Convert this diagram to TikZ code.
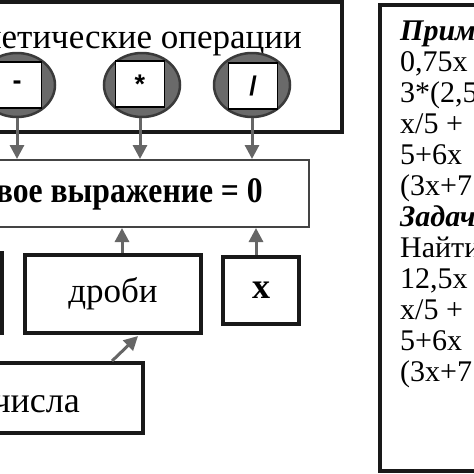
\documentclass[tikz,border=0pt]{standalone}
\usepackage{graphicx}
\usepackage{fontspec}
\setmainfont{Liberation Serif}
\newfontfamily\opsfont{Liberation Sans}
\usetikzlibrary{arrows.meta,shapes.geometric}
\definecolor{arrgray}{HTML}{666666}
\definecolor{ellfill}{HTML}{6A6A6A}
\definecolor{elldraw}{HTML}{3A3A3A}
\definecolor{midgray}{HTML}{444444}
\tikzset{
  thickbox/.style={draw=black!90, line width=4pt, fill=white, inner sep=0pt},
  thinbox/.style={draw=midgray, line width=2pt, fill=white, inner sep=0pt},
  opell/.style={ellipse, draw=elldraw, line width=2.5pt, fill=ellfill, minimum width=76pt, minimum height=64pt, inner sep=0pt},
  opsq/.style={draw=black, line width=1.2pt, fill=white, minimum width=49pt, minimum height=46pt, inner sep=0pt, font=\opsfont\bfseries\fontsize{27}{27}\selectfont},
  arr/.style={draw=arrgray, line width=3pt, -{Triangle[width=14pt,length=14pt]}},
  bigtxt/.style={font=\fontsize{35}{40}\selectfont, inner sep=0pt},
  sidetxt/.style={font=\fontsize{30}{32}\selectfont, inner sep=0pt, anchor=base west},
  sidehead/.style={sidetxt, font=\bfseries\itshape\fontsize{30}{32}\selectfont}
}
\begin{document}
\begin{tikzpicture}[x=1pt,y=-1pt]
\useasboundingbox (0,0) rectangle (474,474);
\clip (0,0) rectangle (474,474);
% top box
\node[thickbox, minimum width=492pt, minimum height=130.5pt] (top) at (96,66.75) {};
\node[bigtxt, anchor=base east] (title) at (302,48) {Арифметические операции};
% ellipses
\node[opell] (e1) at (17,85) {};
\node[opell] (e2) at (142,85) {};
\node[opell] (e3) at (252,85) {};
\node[opsq] (s1) at (17,85) {-};
\node[opsq] (s2) at (140,84) {*};
\node[opsq] (s3) at (253,86) {/};
% middle box
\node[thinbox, minimum width=459pt, minimum height=67pt] (mid) at (79.5,193.5) {};
\node[bigtxt, font=\bfseries\fontsize{36}{40}\selectfont, anchor=base east] (midtxt) at (263,202) {\scalebox{0.88}[1]{Числовое выражение = 0}};
\draw[arr] (e1.south) -- (e1.south |- mid.north);
\draw[arr] (s2.south |- e2.south) -- (s2.south |- mid.north);
\draw[arr] (e3.south) -- (e3.south |- mid.north);
% bottom row
\node[thickbox, minimum width=102pt, minimum height=80pt] (left) at (-49,293) {};
\node[thickbox, minimum width=176pt, minimum height=78pt, font=\fontsize{35}{40}\selectfont] (drobi) at (113,294) {дроби};
\node[thickbox, minimum width=76pt, minimum height=67pt, font=\bfseries\fontsize{36}{40}\selectfont] (xbox) at (261,290.5) {x};
\coordinate (u1) at (122,0);
\coordinate (u2) at (256,0);
\draw[arr] (drobi.north -| u1) -- (mid.south -| u1);
\draw[arr] (xbox.north -| u2) -- (mid.south -| u2);
% chisla
\node[thickbox, minimum width=293pt, minimum height=70pt] (chisla) at (-3.5,398) {};
\node[bigtxt, font=\fontsize{36}{40}\selectfont, anchor=base east] (chtxt) at (80,412) {числа};
\coordinate (d1) at (112,0);
\coordinate (d2) at (138,336);
\draw[arr] (chisla.north -| d1) -- (d2);
% right box
\node[thickbox, minimum width=220pt, minimum height=466pt] (right) at (490,238) {};
\node[sidehead] (r0) at (400,40) {Примеры:};
\node[sidetxt] (r1) at (400,71) {0,75x};
\node[sidetxt] (r2) at (400,102) {3*(2,5};
\node[sidetxt] (r3) at (400,133) {x/5 +};
\node[sidetxt] (r4) at (400,164) {5+6x};
\node[sidetxt] (r5) at (400,195) {(3x+7};
\node[sidehead] (r6) at (400,226) {Задача:};
\node[sidetxt] (r7) at (400,257) {Найти};
\node[sidetxt] (r8) at (400,288) {12,5x};
\node[sidetxt] (r9) at (400,319) {x/5 +};
\node[sidetxt] (r10) at (400,350) {5+6x};
\node[sidetxt] (r11) at (400,381) {(3x+7};
\end{tikzpicture}
\end{document}
